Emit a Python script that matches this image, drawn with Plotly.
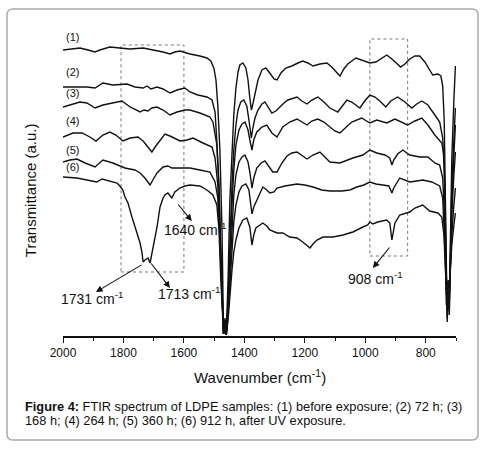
import plotly.graph_objects as go

# Wavenumber (cm-1) and transmittance (a.u.)
wn1 = [2000,1970,1944,1917,1894,1878,1845,1812,1778,1735,1696,1669,1646,1630,1613,1580,1547,1524,1511,1501,1494,1488,1481,1474,1469,1464,1460,1454,1448,1441,1435,1428,1421,1415,1405,1395,1388,1382,1377,1372,1365,1355,1342,1329,1316,1302,1292,1279,1263,1243,1223,1207,1190,1173,1150,1127,1111,1097,1084,1071,1058,1031,1012,985,965,946,929,912,896,883,869,853,836,820,803,790,777,760,750,744,739,735,732,729,726,722,719,714,707,702]
t1 = [28.6,28.7,28.8,28.6,28.4,28.6,28.9,28.8,28.7,28.8,28.6,28.4,28.2,28.4,28.5,28.2,28.0,27.8,27.5,26.8,25.6,23.1,18.6,10.6,0.3,1.8,0.2,5.6,13.6,18.6,22.1,24.8,26.4,27.1,27.3,26.8,25.6,23.8,22.6,23.2,24.1,25.6,26.6,26.8,26.3,25.7,25.6,26.3,26.8,27.0,27.3,27.5,27.3,27.0,27.2,27.3,26.9,26.4,26.0,26.7,27.2,27.8,27.6,27.3,27.4,27.8,28.1,27.7,27.3,26.9,27.2,27.7,28.0,28.0,27.4,26.7,26.1,26.2,26.0,25.0,21.6,13.6,3.6,1.4,4.6,2.1,8.6,17.6,23.6,27.0]

wn2 = [2000,1967,1921,1894,1868,1835,1788,1762,1735,1722,1709,1689,1669,1646,1623,1597,1580,1554,1524,1507,1497,1491,1484,1478,1469,1464,1460,1454,1448,1441,1435,1428,1421,1412,1402,1392,1385,1377,1372,1365,1355,1342,1332,1322,1309,1296,1283,1269,1256,1240,1226,1210,1193,1177,1157,1137,1117,1091,1074,1061,1045,1018,1002,985,968,952,932,916,893,869,846,830,813,793,770,754,744,739,735,732,729,726,722,719,714,707,702]
t2 = [24.9,24.9,24.9,24.8,25.3,25.1,25.2,24.9,24.8,25.0,24.7,24.9,24.7,24.3,24.6,24.8,24.4,24.1,23.9,23.6,22.4,19.4,15.1,8.6,0.2,1.4,0.1,3.6,9.6,15.1,18.6,21.1,22.6,23.4,23.6,23.0,21.6,19.8,20.8,21.8,22.6,23.2,23.4,22.9,22.3,22.5,22.9,23.3,23.6,23.8,23.9,23.5,23.2,23.6,23.9,23.4,22.8,22.4,23.1,23.6,23.4,22.8,23.5,24.1,23.9,23.5,22.9,23.5,23.9,23.4,22.8,23.2,23.5,23.1,22.1,21.4,19.8,16.6,10.6,3.6,1.8,4.1,2.8,7.6,14.6,19.6,22.8]

wn3 = [2000,1977,1944,1921,1894,1868,1835,1805,1778,1745,1732,1719,1706,1689,1669,1646,1623,1597,1580,1547,1514,1504,1491,1484,1478,1469,1464,1460,1454,1448,1441,1435,1428,1418,1408,1398,1388,1382,1375,1369,1359,1342,1326,1309,1292,1273,1250,1226,1210,1193,1177,1157,1137,1117,1101,1084,1064,1045,1012,985,962,929,902,886,860,836,813,793,770,747,740,737,734,730,727,723,719,714,707,702]
t3 = [22.9,23.1,23.4,23.3,22.8,23.1,23.3,23.5,22.9,22.4,22.6,22.5,22.8,22.9,22.6,22.1,22.4,22.6,22.6,22.3,21.9,21.4,19.1,14.6,8.1,0.2,1.6,0.1,3.1,8.1,13.1,16.6,19.1,20.6,21.2,21.4,20.6,19.6,18.6,19.6,20.4,20.9,21.1,20.3,19.9,20.9,21.4,21.7,21.4,21.1,21.5,21.7,21.4,20.9,20.5,20.3,20.9,21.4,21.8,21.3,21.6,21.3,21.7,21.5,21.1,21.5,21.8,21.1,20.1,19.3,18.1,14.6,7.6,2.6,4.1,3.1,6.6,13.1,18.1,21.1]

wn4 = [2000,1967,1937,1911,1891,1868,1845,1825,1802,1778,1752,1735,1719,1706,1693,1679,1663,1646,1626,1613,1590,1570,1537,1507,1497,1488,1481,1474,1469,1464,1460,1454,1448,1441,1435,1428,1418,1408,1398,1388,1382,1375,1369,1359,1345,1332,1319,1306,1292,1276,1259,1243,1226,1210,1193,1173,1150,1134,1117,1084,1061,1041,1008,985,962,935,919,912,906,893,876,853,820,793,770,754,744,739,735,732,729,726,722,719,714,707,702]
t4 = [19.9,20.3,20.3,19.9,19.5,20.1,20.4,20.1,19.5,19.8,19.9,19.5,18.9,18.4,19.0,19.6,20.2,20.0,19.7,19.5,19.6,19.8,19.3,18.9,17.8,15.1,10.1,4.6,0.2,1.4,0.1,2.6,6.6,11.1,14.1,16.1,17.4,17.9,18.1,17.4,16.4,14.8,15.8,16.8,17.3,17.5,16.9,16.4,16.4,17.3,18.0,18.3,18.4,18.1,17.7,18.1,18.4,17.9,17.4,17.3,17.6,17.8,18.1,18.6,18.3,18.1,17.8,17.1,17.6,18.2,18.6,18.1,17.9,17.9,17.3,17.1,15.8,12.6,7.6,3.1,3.8,4.6,3.6,6.6,12.1,16.1,18.4]

wn5 = [2000,1977,1954,1927,1894,1868,1835,1795,1762,1745,1729,1712,1699,1689,1669,1653,1640,1613,1580,1547,1514,1497,1488,1481,1474,1469,1464,1460,1454,1448,1441,1435,1428,1418,1408,1395,1385,1380,1375,1369,1359,1349,1339,1326,1316,1302,1292,1266,1226,1200,1173,1144,1117,1078,1051,1028,1005,985,965,942,922,912,906,886,869,853,830,810,780,754,744,739,735,732,729,726,722,719,714,707,702]
t5 = [17.4,17.6,17.7,17.3,16.9,17.6,17.3,16.8,16.6,16.3,15.8,15.1,15.8,16.3,16.9,17.0,16.8,16.8,16.8,16.6,16.4,15.4,13.8,9.6,4.1,0.2,1.4,0.1,2.1,5.1,8.6,11.4,13.1,14.4,15.0,15.2,14.6,13.6,12.2,12.9,13.6,14.3,14.9,14.6,14.3,14.4,14.8,15.0,15.2,15.1,14.9,14.6,14.5,14.5,14.6,14.9,15.1,15.4,15.2,15.1,15.0,14.3,14.8,15.8,15.6,15.4,15.5,15.6,15.4,15.0,13.8,11.1,7.6,4.1,4.6,5.1,4.4,6.6,10.1,13.1,14.8]

wn6 = [2000,1954,1921,1888,1871,1845,1821,1812,1802,1795,1785,1772,1755,1745,1739,1735,1729,1722,1719,1712,1702,1689,1679,1669,1663,1653,1640,1630,1613,1597,1580,1547,1524,1504,1491,1484,1478,1469,1464,1460,1454,1448,1441,1435,1428,1418,1405,1392,1382,1375,1369,1362,1349,1339,1326,1316,1292,1273,1250,1226,1207,1193,1183,1173,1160,1140,1107,1074,1041,1008,992,985,975,959,929,919,912,902,886,853,836,810,787,760,747,740,735,732,729,726,722,719,714,707,702]
t6 = [15.9,15.8,15.6,15.4,15.7,15.5,15.3,15.0,14.6,13.9,13.3,11.9,10.3,9.3,8.4,7.4,7.6,7.7,7.8,7.3,8.9,10.9,12.9,13.8,14.1,14.3,13.8,14.4,14.8,15.0,15.1,15.0,14.6,14.1,13.1,10.6,5.6,0.2,1.4,0.1,1.6,4.1,6.6,8.4,9.6,10.8,11.6,11.8,10.9,9.1,10.1,10.8,11.1,11.3,11.0,10.6,10.3,10.3,9.9,9.8,9.4,9.0,8.8,9.2,9.6,9.9,9.9,10.1,10.4,10.9,11.1,11.4,11.2,11.4,11.6,11.3,9.6,11.3,12.1,12.4,12.8,13.1,12.5,12.3,11.9,10.1,7.1,4.6,5.1,5.6,4.8,6.6,9.1,11.1,12.3]

series_labels = ["(1)", "(2)", "(3)", "(4)", "(5)", "(6)"]
label_t = [29.9, 26.4, 24.3, 21.5, 18.6, 16.9]
x_ticks = [2000, 1800, 1600, 1400, 1200, 1000, 800]

series = [(wn1, t1), (wn2, t2), (wn3, t3), (wn4, t4), (wn5, t5), (wn6, t6)]

fig = go.Figure()
for (w, t), name in zip(series, series_labels):
    fig.add_trace(go.Scatter(x=w, y=t, mode="lines", name=name,
                             line=dict(color="#111111", width=1.4),
                             showlegend=False, hoverinfo="skip"))

font_main = "Liberation Sans, Arial, sans-serif"
txt = "#111111"

for lab, ty in zip(series_labels, label_t):
    fig.add_annotation(x=1970, y=ty, xref="x", yref="y", text=lab, showarrow=False,
                       xanchor="center", yanchor="middle",
                       font=dict(family=font_main, size=11, color=txt))

# band labels
fig.add_annotation(x=1673, y=10.7, xref="x", yref="y", text="1640 cm<sup>-1</sup>",
                   xanchor="left", yanchor="middle", showarrow=False,
                   font=dict(family=font_main, size=14, color=txt))
fig.add_annotation(x=1904, y=3.8, xref="x", yref="y", text="1731 cm<sup>-1</sup>",
                   xanchor="center", yanchor="middle", showarrow=False,
                   font=dict(family=font_main, size=14, color=txt))
fig.add_annotation(x=1583, y=4.3, xref="x", yref="y", text="1713 cm<sup>-1</sup>",
                   xanchor="center", yanchor="middle", showarrow=False,
                   font=dict(family=font_main, size=14, color=txt))
fig.add_annotation(x=965, y=5.8, xref="x", yref="y", text="908 cm<sup>-1</sup>",
                   xanchor="center", yanchor="middle", showarrow=False,
                   font=dict(family=font_main, size=14, color=txt))

# arrows (head, tail)
arrows = [((1574, 11.5), (1623, 13.3)),
          ((1891, 4.4), (1735, 7.2)),
          ((1646, 4.8), (1712, 7.4)),
          ((975, 6.8), (916, 9.0))]
for (hx, hy), (tx, ty) in arrows:
    fig.add_annotation(x=hx, y=hy, ax=tx, ay=ty, xref="x", yref="y", axref="x", ayref="y",
                       text="", showarrow=True, arrowhead=2, arrowsize=1.2, arrowwidth=1.1,
                       arrowcolor="#111111")

# dotted boxes
fig.add_shape(type="rect", xref="x", yref="y", x0=1808, x1=1600, y0=6.4, y1=29.1,
              line=dict(color="#777777", width=1, dash="dot"), layer="below")
fig.add_shape(type="rect", xref="x", yref="y", x0=985, x1=860, y0=8.0, y1=29.7,
              line=dict(color="#777777", width=1, dash="dot"), layer="below")

# axis titles
fig.add_annotation(x=0.501, y=-0.132, xref="paper", yref="paper",
                   xanchor="center", yanchor="middle",
                   text="Wavenumber (cm<sup>-1</sup>)", showarrow=False,
                   font=dict(family=font_main, size=15, color=txt))
fig.add_annotation(x=-0.081, y=0.471, xref="paper", yref="paper",
                   xanchor="center", yanchor="middle",
                   text="Transmittance (a.u.)", textangle=-90, showarrow=False,
                   font=dict(family=font_main, size=15, color=txt))

# caption
fig.add_annotation(x=-0.102, y=-0.229, xref="paper", yref="paper",
                   xanchor="left", yanchor="middle",
                   text="<b>Figure 4:</b> FTIR spectrum of LDPE samples: (1) before exposure; (2) 72 h; (3)",
                   showarrow=False, font=dict(family=font_main, size=12.8, color=txt))
fig.add_annotation(x=-0.102, y=-0.274, xref="paper", yref="paper",
                   xanchor="left", yanchor="middle",
                   text="168 h; (4) 264 h; (5) 360 h; (6) 912 h, after UV exposure.",
                   showarrow=False, font=dict(family=font_main, size=12.8, color=txt))

# outer rounded frame
x0, x1 = -0.1425, 1.056
y0, y1 = -0.3355, 1.0548
rx, ry = 0.0153, 0.0194
path = (f"M {x0+rx},{y0} L {x1-rx},{y0} Q {x1},{y0} {x1},{y0+ry} "
        f"L {x1},{y1-ry} Q {x1},{y1} {x1-rx},{y1} L {x0+rx},{y1} "
        f"Q {x0},{y1} {x0},{y1-ry} L {x0},{y0+ry} Q {x0},{y0} {x0+rx},{y0} Z")
fig.add_shape(type="path", xref="paper", yref="paper", path=path,
              line=dict(color="#aaaaaa", width=1.5), layer="below")

fig.update_layout(
    width=485, height=450,
    margin=dict(l=63, r=29, t=26, b=114),
    paper_bgcolor="white", plot_bgcolor="white",
    xaxis=dict(range=[2000, 700], tickvals=x_ticks, ticks="outside", ticklen=5,
               tickwidth=1.2, tickcolor="#111111",
               showline=True, linecolor="#111111", linewidth=1.5, showgrid=False,
               zeroline=False, mirror=False,
               tickfont=dict(family=font_main, size=12, color=txt),
               minor=dict(dtick=100, tick0=2000, ticks="outside", ticklen=3,
                          tickcolor="#111111", showgrid=False)),
    yaxis=dict(range=[0, 31], visible=False, showgrid=False, zeroline=False),
)

fig.write_html("out.html")
